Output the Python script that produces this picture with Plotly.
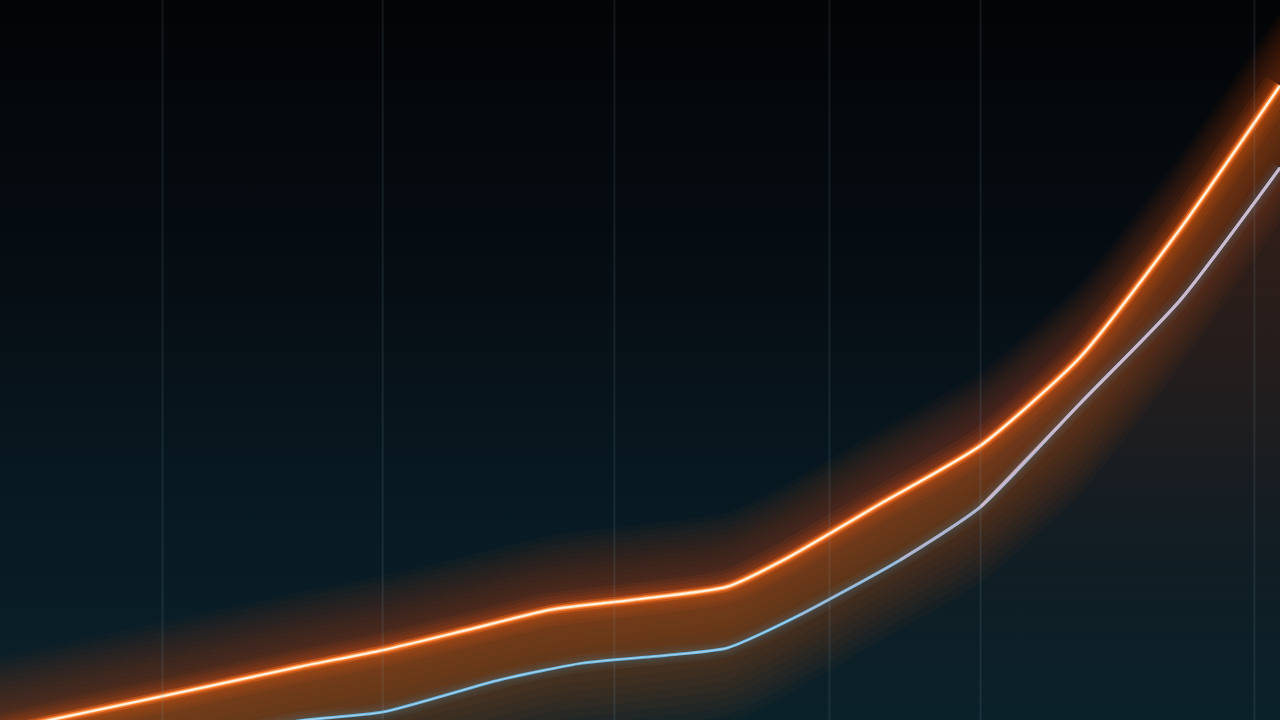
import plotly.graph_objects as go

# ---- data (x and y in arbitrary 0-100 units) ----
orange_x = [0, 3.9, 15.6, 23.4, 29.9, 36.5, 43.0, 49.5, 56.8, 61.2, 68.75, 76.6, 84.4, 92.2, 100]
orange_y = [-1.5, 0.0, 4.4, 7.4, 9.7, 12.5, 15.3, 16.7, 18.5, 22.2, 30.0, 38.1, 50.4, 68.2, 88.1]

blue_x = [19.5, 23.4, 29.9, 39.1, 45.5, 52.1, 56.8, 62.5, 70.3, 76.6, 84.4, 92.2, 100]
blue_y = [-1.5, -0.1, 1.1, 5.6, 7.9, 9.0, 10.0, 14.6, 22.2, 29.6, 44.0, 58.3, 76.7]

grid_x = [12.7, 29.9, 48.0, 64.8, 76.6, 98.0]

SM = 0.6
fig = go.Figure()


def line(x, y, width, color, **kw):
    fig.add_trace(go.Scatter(x=x, y=y, mode="lines",
                             line=dict(width=width, color=color, shape="spline", smoothing=SM),
                             hoverinfo="skip", showlegend=False, **kw))


def band(x, y, offset, color):
    line(x, [v + offset for v in y], 0, "rgba(0,0,0,0)")
    line(x, y, 0, "rgba(0,0,0,0)", fill="tonexty", fillcolor=color)


# background gradient (dark teal bottom -> near black top)
fig.add_trace(go.Scatter(
    x=[0, 100, 100, 0, 0], y=[0, 0, 100, 100, 0], mode="lines", line=dict(width=0),
    fill="toself",
    fillgradient=dict(type="vertical", start=0, stop=100,
                      colorscale=[[0, "#0a2129"], [0.3, "#081922"], [0.6, "#060e14"], [1, "#030406"]]),
    hoverinfo="skip", showlegend=False))

# brown haze below the blue line
fig.add_trace(go.Scatter(
    x=blue_x, y=blue_y, mode="lines", line=dict(width=0, shape="spline", smoothing=SM),
    fill="tozeroy",
    fillgradient=dict(type="vertical", start=0, stop=80,
                      colorscale=[[0, "rgba(80,45,35,0)"], [0.3, "rgba(95,50,35,0.10)"],
                                  [0.6, "rgba(110,58,38,0.28)"], [1, "rgba(125,62,38,0.42)"]]),
    hoverinfo="skip", showlegend=False))

# brown fill between orange and blue lines
line(blue_x, blue_y, 0, "rgba(0,0,0,0)")
line(orange_x, orange_y, 0, "rgba(0,0,0,0)", fill="tonexty", fillcolor="rgba(150,65,25,0.18)")

# orange haze below the orange line (soft falloff)
for i in range(16):
    band(orange_x, orange_y, -(1 + 1.2 * i), "rgba(240,90,15,0.04)")
# orange haze above the orange line
for i in range(14):
    band(orange_x, orange_y, 0.6 + 0.75 * i, "rgba(240,90,15,0.035)")

# orange glow close to the line
for w in [34, 26, 20, 15]:
    line(orange_x, orange_y, w, "rgba(255,100,20,0.07)")
line(orange_x, orange_y, 10, "rgba(255,110,30,0.4)")
line(orange_x, orange_y, 6, "rgba(255,125,45,0.85)")
line(orange_x, orange_y, 3.5, "#ffb070")
line(orange_x, orange_y, 2, "#fff4e4")

# blue line glow + core, shifting to lavender toward the right
for w in [18, 12, 8]:
    line(blue_x, blue_y, w, "rgba(90,170,225,0.06)")
line(blue_x, blue_y, 3, "#66b0dc")
line(blue_x, blue_y, 1.3, "rgba(200,230,245,0.6)")
for start, col in [(7, "rgba(170,175,200,0.5)"), (8, "rgba(195,178,200,0.6)"), (9, "rgba(215,188,205,0.7)")]:
    line(blue_x[start:], blue_y[start:], 3, col)

# faint vertical grid lines (drawn above the background trace)
for gx in grid_x:
    fig.add_shape(type="line", x0=gx, x1=gx, y0=0, y1=1, xref="x", yref="paper",
                  line=dict(color="rgba(130,165,175,0.13)", width=2), layer="above")

fig.update_layout(
    width=1280, height=720, margin=dict(l=0, r=0, t=0, b=0),
    paper_bgcolor="#040608", plot_bgcolor="#040608", showlegend=False,
    xaxis=dict(range=[0, 100], showticklabels=False, showgrid=False, zeroline=False,
               showline=False, fixedrange=True),
    yaxis=dict(range=[0, 100], showgrid=False, showticklabels=False, zeroline=False,
               showline=False, fixedrange=True),
)
fig.write_html("out.html", config={"displayModeBar": False},
               post_script="document.body.style.margin='0';document.body.style.background='#040608';")
